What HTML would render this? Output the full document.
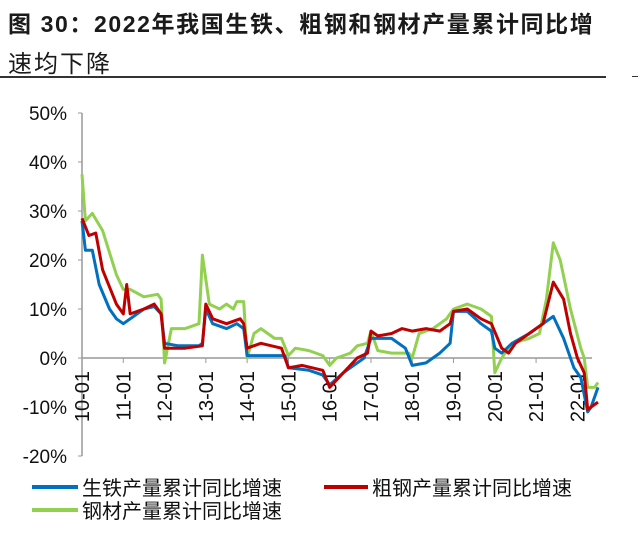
<!DOCTYPE html>
<html><head><meta charset="utf-8"><style>
body{margin:0;width:640px;height:535px;background:#fff;overflow:hidden;font-family:"Liberation Sans","Noto Sans CJK SC",sans-serif;}
.t{position:absolute;left:8px;font-size:23px;font-weight:bold;color:#1a1a1a;letter-spacing:1.6px}
</style></head><body>
<div class="t" style="top:5px">图 30：2022年我国生铁、粗钢和钢材产量累计同比增</div>
<div class="t" style="top:44px;font-weight:normal;font-size:24px;letter-spacing:2px">速均下降</div>
<div style="position:absolute;left:0;top:76px;width:606px;height:2px;background:#333"></div>
<div style="position:absolute;left:632px;top:76px;width:6px;height:1px;background:#333"></div>
<svg id="s" width="640" height="535" style="position:absolute;left:0;top:0" font-family="Liberation Sans, Noto Sans CJK SC, sans-serif"></svg>
<script>
var s=document.getElementById('s'),h='';
function X(m){return 82+m*3.44}function Y(v){return 358-v*4.9}
h+='<line x1="82" y1="113" x2="82" y2="456" stroke="#999" stroke-width="1.5"/>';
for(var v=50;v>=-20;v-=10){var y=Y(v);h+='<line x1="78" y1="'+y+'" x2="82" y2="'+y+'" stroke="#999"/>';
h+='<text x="67" y="'+(y+7)+'" font-size="19" text-anchor="end" fill="#111">'+v+'%</text>';}
h+='<line x1="82" y1="358" x2="592" y2="358" stroke="#999" stroke-width="1.5"/>';
for(var i=0;i<=12;i++){var x=X(i*12);h+='<line x1="'+x+'" y1="358" x2="'+x+'" y2="363" stroke="#999"/>';
var lab=(10+i)+'-01';h+='<text transform="translate('+(x+7)+',371) rotate(-90)" font-size="20" text-anchor="end" fill="#111">'+lab+'</text>';}
function P(a,c){var d='';for(var i=0;i<a.length;i+=2)d+=(i?'L':'M')+X(a[i]).toFixed(1)+','+Y(a[i+1]).toFixed(1);
h+='<path d="'+d+'" fill="none" stroke="'+c+'" stroke-width="3" stroke-linejoin="round"/>';}
var g=[0,37.5,1,28,3,29.5,6,26,10,17,12,14,14,14,18,12.5,22,13,23,12,24,-1,26,6,30,6,34,7,35,21,37,11,40,10,42,11,44,10,45,11.5,47,11.5,48,0,50,5,52,6,56,4,58,4,60,0.5,62,2,66,1.5,70,0.5,72,-1.5,74,0,78,1,80,2.5,83,3,84,5.5,86,1.5,90,1,95,1,96,0,98,5,102,6,106,8,108,10,112,11,116,10,119,8.5,120,-3,122,0,125,3,130,4,133,5,135,12,137,23.5,139,20,142,10,145,2,146,0,147,-6,149,-6,150,-5];
var r=[0,28.5,2,25,4,25.5,6,18,10,11,12,9,13,15,14,9,18,10,21,11,23,9,24,2,30,2,35,2.5,36,11,38,8,42,7,46,8,47,7,48,2,52,3,58,2,60,-2,64,-1.5,70,-2.5,72,-6,76,-3,80,0,83,1,84,5.5,86,4.5,90,5,93,6,96,5.5,100,6,104,5.5,107,7,108,9.5,112,10,116,8,119,7,122,2,124,1,126,3,130,5,134,7,137,15.5,140,12,142,5,144,0,146,-3,147,-10.5,148,-10,150,-9];
var b=[0,28,1,22,3,22,5,15,8,10,10,8,12,7,14,8,18,10,21,10.5,23,9,24,3,28,2.5,34,2.5,35,3,36,10,38,7,42,6,45,7,47,6,48,0.5,52,0.5,59,0.5,60,-2,66,-2.5,70,-3.5,72,-5.5,76,-3,82,0,84,4,90,4,94,2,96,-1.5,100,-1,104,1,107,3,108,9.5,112,9.5,116,7,119,5.5,120,2,122,1,125,3,130,5,132,6,137,8.5,140,4,143,-2,145,-4,147,-11,148,-10,150,-6];
P(g,'#92d050');P(b,'#0070c0');P(r,'#c00000');
h+='<line x1="32" y1="487" x2="78" y2="487" stroke="#0070c0" stroke-width="4"/><text x="82" y="495" font-size="20" fill="#111">生铁产量累计同比增速</text>';
h+='<line x1="324" y1="487" x2="368" y2="487" stroke="#c00000" stroke-width="4"/><text x="372" y="495" font-size="20" fill="#111">粗钢产量累计同比增速</text>';
h+='<line x1="32" y1="510" x2="78" y2="510" stroke="#92d050" stroke-width="4"/><text x="82" y="518" font-size="20" fill="#111">钢材产量累计同比增速</text>';
s.innerHTML=h;
</script>
</body></html>
